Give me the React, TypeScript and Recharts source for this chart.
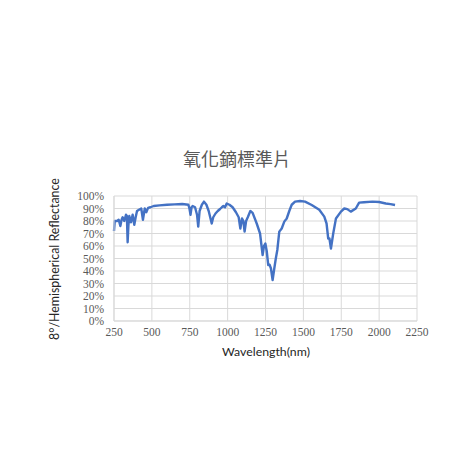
import React from 'react';
import { LineChart, Line, XAxis, YAxis, CartesianGrid } from 'recharts';

const wavelengths = [
  250, 255, 270, 281, 292, 300, 307, 318, 329, 335, 340, 345, 351, 362, 373, 384, 393, 402, 415, 430, 441, 453, 463, 475, 490, 512,
  550, 600, 650, 700, 741, 748, 755, 762, 769, 785, 798, 806, 815, 830, 844, 860, 875, 885, 895, 905, 920, 935, 950, 962, 972, 983, 994,
  1012, 1033, 1055, 1073, 1084, 1095, 1104, 1112, 1122, 1133, 1150, 1165, 1192, 1214, 1231, 1240, 1249, 1258, 1268, 1277, 1286, 1297,
  1308, 1318, 1328, 1341, 1357, 1374, 1390, 1407, 1423, 1445, 1478, 1511, 1555, 1605, 1638, 1653, 1664, 1672, 1682, 1697, 1715, 1748,
  1770, 1790, 1813, 1846, 1868, 1900, 1956, 2000, 2044, 2075, 2105,
];
const reflectance = [
  72, 80, 80, 81, 76, 81, 83, 80, 85, 84, 63, 76, 84, 79, 85, 77, 83, 88, 89, 90, 81, 90, 87, 90.5, 91, 92,
  92.5, 93, 93.3, 93.6, 93, 90, 85, 91, 92, 91, 85, 75.5, 88, 93, 95.5, 93, 88, 83, 78, 83, 86, 88, 89.6, 91, 92, 91, 94,
  93, 91, 87, 83, 74, 82, 80, 71.5, 80, 83, 88, 86.5, 78, 70, 52.8, 60, 62, 56, 44.8, 45, 42, 32.8,
  42, 50, 56.8, 71.5, 74, 79.5, 82, 88, 93, 95.5, 96, 95.5, 92.8, 89, 83.5, 78, 66, 66, 58, 70, 82, 87.5,
  90, 89.5, 87.5, 90, 94.7, 95, 95.5, 95.2, 94, 93.5, 92.8,
];
const xTicks = [250, 500, 750, 1000, 1250, 1500, 1750, 2000, 2250];
const yTicks = [0, 10, 20, 30, 40, 50, 60, 70, 80, 90, 100];
const title = '氧化鏑標準片';
const xLabel = 'Wavelength(nm)';
const yLabel = '8°/Hemispherical Reflectance';

const data = wavelengths.map((w, i) => ({ w, r: reflectance[i] }));

const tickStyle = { fill: '#595959', fontSize: 11.5, fontFamily: '"Liberation Serif", "DejaVu Serif", serif' };

export default function App() {
  return (
    <div style={{ position: 'absolute', left: 0, top: 0, width: 474, height: 474, background: '#fff' }}>
      <LineChart width={474} height={474} data={data} margin={{ top: 196, right: 57, left: 0, bottom: 0 }}>
        <CartesianGrid stroke="#d9d9d9" strokeWidth={1} />
        <XAxis
          dataKey="w"
          type="number"
          domain={[250, 2250]}
          ticks={xTicks}
          interval={0}
          height={153}
          tickLine={false}
          tickSize={0}
          tickMargin={7}
          axisLine={{ stroke: '#d9d9d9' }}
          tick={tickStyle}
        />
        <YAxis
          type="number"
          domain={[0, 100]}
          ticks={yTicks}
          interval={0}
          width={114}
          tickLine={false}
          tickSize={0}
          tickMargin={10}
          axisLine={{ stroke: '#d9d9d9' }}
          tickFormatter={(v: number) => `${v}%`}
          tick={tickStyle}
        />
        <Line
          type="linear"
          dataKey="r"
          stroke="#4472C4"
          strokeWidth={2.4}
          strokeLinejoin="round"
          dot={false}
          isAnimationActive={false}
        />
      </LineChart>
      <div
        style={{
          position: 'absolute', left: 0, width: 474, top: 146, textAlign: 'center',
          fontSize: 18, color: '#595959', fontFamily: '"Noto Sans CJK TC", sans-serif', lineHeight: '24px',
        }}
      >
        {title}
      </div>
      <div
        style={{
          position: 'absolute', left: 166, width: 200, top: 344, textAlign: 'center',
          fontSize: 12.3, color: '#262626', fontFamily: 'Lato, sans-serif', lineHeight: '16px',
        }}
      >
        {xLabel}
      </div>
      <div
        style={{
          position: 'absolute', left: 55 - 100, width: 200, top: 259 - 8, textAlign: 'center',
          fontSize: 12.4, color: '#262626', fontFamily: 'Lato, sans-serif', lineHeight: '16px',
          transform: 'rotate(-90deg)', transformOrigin: '100px 8px',
        }}
      >
        {yLabel}
      </div>
    </div>
  );
}
